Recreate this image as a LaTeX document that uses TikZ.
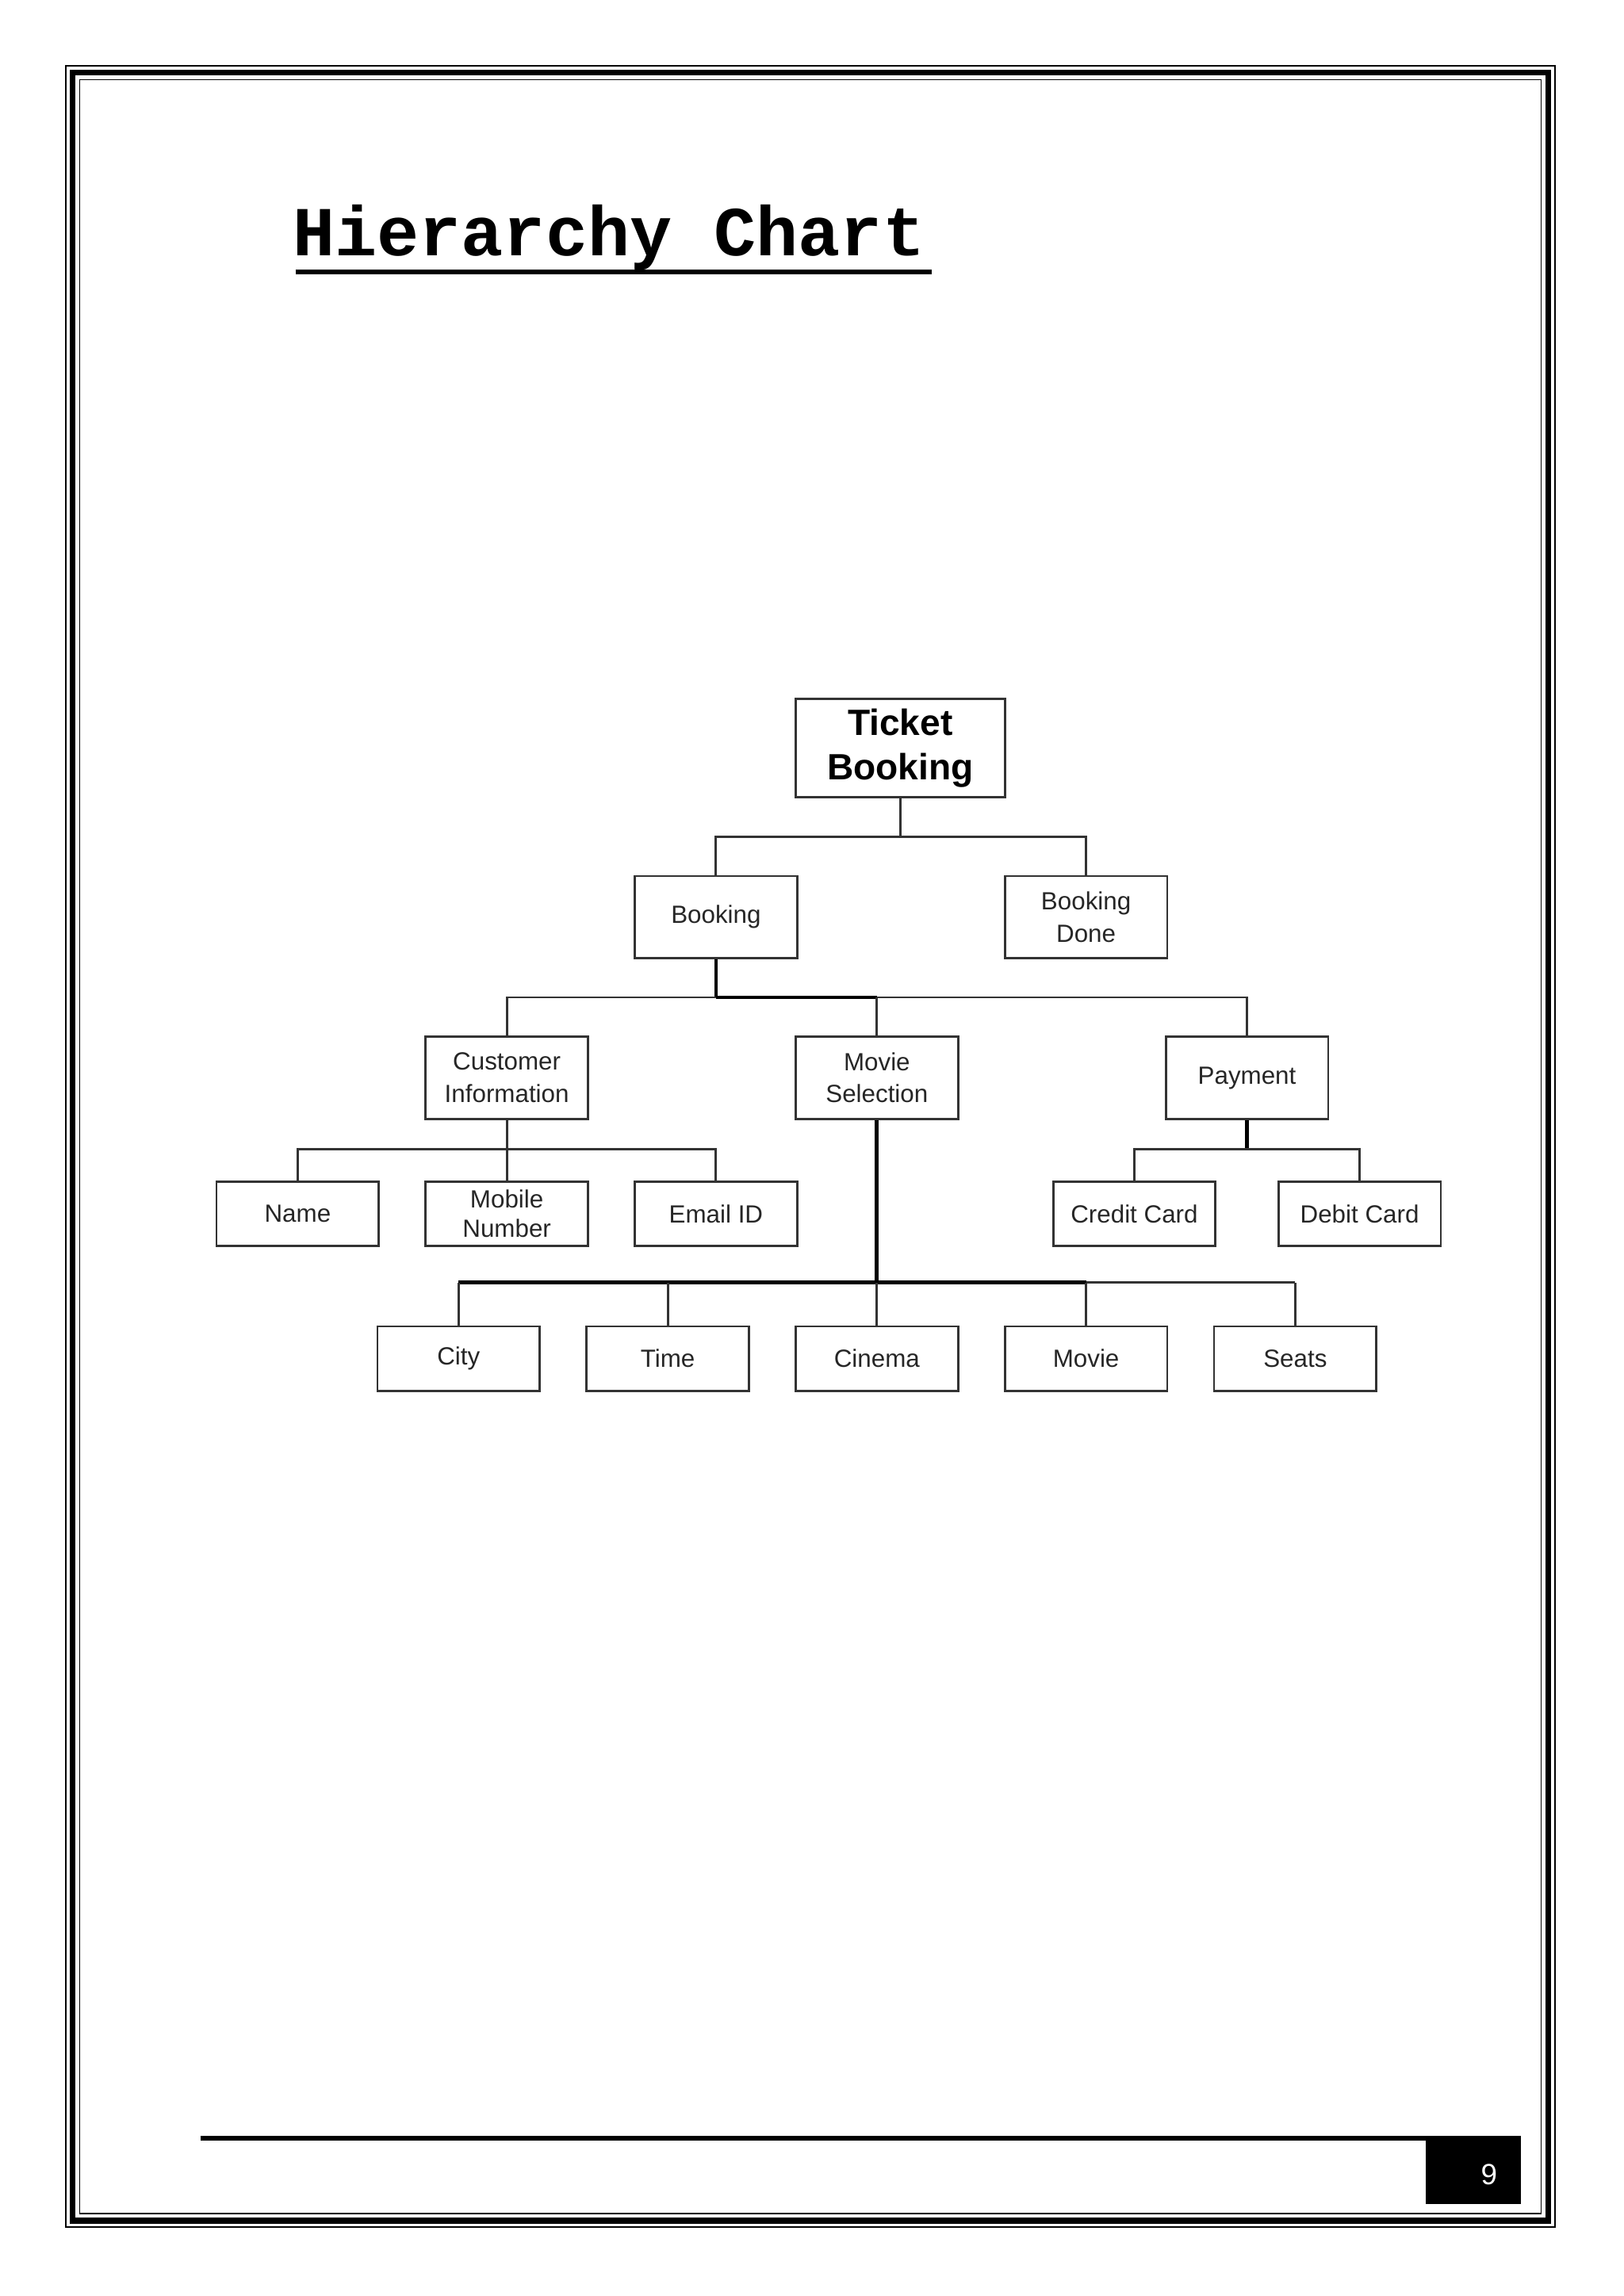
\documentclass[tikz,border=0pt]{standalone}
\usepackage{fontspec}
\setmainfont{Liberation Sans}
\newfontfamily\monob{Liberation Mono}
\begin{document}
\begin{tikzpicture}[x=1pt,y=-1pt,
  bx/.style={draw=black!80,line width=1.5pt,minimum width=111pt,minimum height=#1,inner sep=1pt,align=center,font=\fontsize{17}{22}\selectfont,text=black!85},
  bx/.default=56pt,
  ln/.style={draw=black!80,line width=1.6pt},
  tk/.style={draw=black,line width=2.6pt}]
\useasboundingbox (0,0) rectangle (1110,1570);
% page border
\draw[line width=1pt] (45,45) rectangle (1063,1523);
\draw[line width=4pt] (49.5,49.5) rectangle (1058.5,1518.5);
\draw[line width=0.8pt] (54.5,54.5) rectangle (1053.5,1513.5);
% title
\node[anchor=base west,inner sep=0,font=\monob\bfseries\fontsize{48}{50}\selectfont] (title) at (200,175) {Hierarchy Chart};
\draw[line width=3pt] (202,186) -- (637,186);
% footer
\draw[line width=3pt] (137,1462) -- (1040,1462);
\fill (975,1462) rectangle (1040,1507);
\node[text=white,font=\fontsize{20}{22}\selectfont] (pg) at (1018,1487) {9};
% nodes
\node[bx=67pt,minimum width=143pt,font=\bfseries\fontsize{25}{30}\selectfont,text=black] (tb) at (615.5,511.5) {Ticket\\Booking};
\node[bx] (bk) at (489.5,627) {Booking};
\node[bx] (bd) at (742.5,627) {Booking\\Done};
\node[bx] (ci) at (346.5,737) {Customer\\Information};
\node[bx] (ms) at (599.5,737) {Movie\\Selection};
\node[bx] (pay) at (852.5,737) {Payment};
\node[bx=44pt] (nm) at (203.5,830) {Name};
\node[bx=44pt,font=\fontsize{17}{20}\selectfont] (mob) at (346.5,830) {Mobile\\Number};
\node[bx=44pt] (em) at (489.5,830) {Email ID};
\node[bx=44pt] (cc) at (775.5,830) {Credit Card};
\node[bx=44pt] (dc) at (929.5,830) {Debit Card};
\node[bx=44pt] (city) at (313.5,929) {City};
\node[bx=44pt] (time) at (456.5,929) {Time};
\node[bx=44pt] (cin) at (599.5,929) {Cinema};
\node[bx=44pt] (mov) at (742.5,929) {Movie};
\node[bx=44pt] (seat) at (885.5,929) {Seats};
% connectors
\draw[ln] (tb.south) -- (615.5,572);
\draw[ln] (bk.north) -- (489.5,572) -- (742.5,572) -- (bd.north);
\draw[tk] (bk.south) -- (489.5,682);
\draw[ln] (ci.north) -- (346.5,682) -- (852.5,682) -- (pay.north);
\draw[tk] (489.5,682) -- (599.5,682);
\draw[ln] (599.5,682) -- (ms.north);
\draw[ln] (ci.south) -- (346.5,786);
\draw[ln] (nm.north) -- (203.5,786) -- (489.5,786) -- (em.north);
\draw[ln] (346.5,786) -- (mob.north);
\draw[tk] (pay.south) -- (852.5,786);
\draw[ln] (cc.north) -- (775.5,786) -- (929.5,786) -- (dc.north);
\draw[tk] (ms.south) -- (599.5,877);
\draw[tk] (313.5,877) -- (742.5,877);
\draw[ln] (742.5,877) -- (885.5,877);
\draw[ln] (city.north) -- (313.5,877);
\draw[ln] (time.north) -- (456.5,877);
\draw[ln] (cin.north) -- (599.5,877);
\draw[ln] (mov.north) -- (742.5,877);
\draw[ln] (seat.north) -- (885.5,877);
\end{tikzpicture}
\end{document}
